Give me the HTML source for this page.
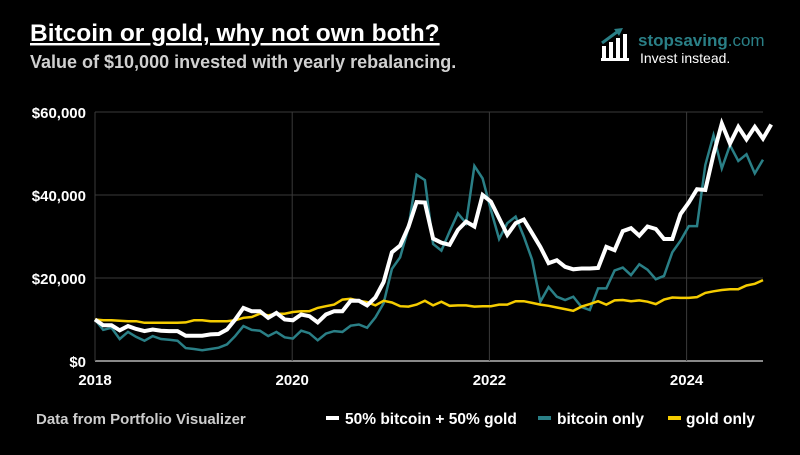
<!DOCTYPE html>
<html><head><meta charset="utf-8"><style>
body{margin:0;background:#000;width:800px;height:450px;overflow:hidden;font-family:"Liberation Sans",sans-serif}
svg text{font-family:"Liberation Sans",sans-serif}
</style></head><body>
<svg width="800" height="450">
<rect width="800" height="450" fill="#000"/>
<text x="30" y="41" fill="#fff" font-size="24.5" font-weight="bold" text-decoration="underline">Bitcoin or gold, why not own both?</text>
<text x="30" y="68" fill="#d0d0d0" font-size="18" font-weight="bold">Value of $10,000 invested with yearly rebalancing.</text>
<g>
<g fill="#fff"><rect x="602" y="46" width="4" height="12"/><rect x="609" y="42" width="4" height="16"/><rect x="616" y="38" width="4" height="20"/><rect x="623" y="34" width="4" height="24"/><rect x="601" y="58" width="28" height="3"/></g>
<path d="M602 43 L617 32" stroke="#2a7f86" stroke-width="3"/><path d="M614 29 L623 28 L619 36 Z" fill="#2a7f86"/>
<text x="638" y="46" font-size="17" fill="#2a7f86"><tspan font-weight="bold">stopsaving</tspan>.com</text>
<text x="640" y="63" font-size="14" fill="#fff">Invest instead.</text>
</g>
<g id="grid"></g><g id="series"></g>
<text x="36" y="424" fill="#ccc" font-size="15" font-weight="bold">Data from Portfolio Visualizer</text>
<g font-size="15.5" font-weight="bold" fill="#fff">
<g><line x1="326" y1="418" x2="339" y2="418" stroke="#fff" stroke-width="4"/><text x="345" y="424">50% bitcoin + 50% gold</text></g>
<g><line x1="538" y1="418" x2="551" y2="418" stroke="#2a7f86" stroke-width="4"/><text x="557" y="424">bitcoin only</text></g>
<g><line x1="668" y1="418" x2="681" y2="418" stroke="#f5cc00" stroke-width="4"/><text x="686" y="424">gold only</text></g>
</g>
</svg>
<script>
const yTicks=[0,20000,40000,60000];
const yTickLabels=["$0","$20,000","$40,000","$60,000"];
const xTicks=[2018,2020,2022,2024];
const bitcoin=[10,7.5,8,5.3,7,5.8,4.9,6,5.3,5.1,4.9,3.1,2.9,2.6,2.9,3.2,4,6,8.4,7.5,7.3,6,7,5.7,5.4,7.3,6.7,5,6.6,7.2,7,8.5,8.8,8,10.5,13.9,22.2,25,32,44.9,43.6,28.2,26.6,31.2,35.6,33.2,47,44,36.4,29.4,33.2,34.8,30,24.4,14.3,17.8,15.5,14.7,15.5,13,12.3,17.5,17.5,21.8,22.5,20.7,23.3,22,19.7,20.5,26.2,29,32.5,32.5,47.2,54.4,46.4,52,48.2,49.8,45.2,48.5];
const portfolio=[10,8.6,8.6,7.4,8.4,7.7,7.2,7.6,7.3,7.2,7.2,6.1,6.1,6.1,6.4,6.5,7.6,10,12.8,12,12,10.4,11.6,10,9.8,11.2,10.8,9.3,11.2,12,12,14.5,14.5,13.4,15.3,19,26.2,27.8,32.3,38.3,38.2,29.5,28.5,28,31.6,33.6,32.4,40,38.4,34.4,30.4,33.2,34.1,30.8,27.5,23.6,24.3,22.7,22.1,22.3,22.3,22.4,27.5,26.7,31.3,32,30.2,32.4,31.8,29.4,29.4,35.4,38.2,41.4,41.2,49.8,57.2,52.4,56.4,53.4,56.4,53.6,57];
const gold=[10,9.8,9.8,9.7,9.6,9.6,9.2,9.2,9.2,9.2,9.2,9.3,9.8,9.8,9.6,9.6,9.6,9.8,10.4,10.6,11.4,11,11.4,11.4,11.8,12,12,12.8,13.2,13.6,14.8,15,14.5,14.2,13.4,14.5,14.1,13.2,13.1,13.6,14.5,13.4,14.3,13.3,13.4,13.4,13.1,13.2,13.2,13.6,13.6,14.4,14.4,14,13.6,13.3,12.9,12.5,12.1,13.1,13.7,14.4,13.6,14.6,14.7,14.4,14.6,14.3,13.7,14.8,15.3,15.2,15.2,15.4,16.4,16.8,17.1,17.3,17.3,18.2,18.6,19.5];
const NS="http://www.w3.org/2000/svg";
const L=95,R=763,T=112,B=361;
function xYear(y){return L+(y-2018)*98.6;}
function xIdx(i){return L+(R-L)*i/81;}
function yVal(v){return B-(v/60000)*(B-T);}
const grid=document.getElementById('grid'),ser=document.getElementById('series');
function mk(tag,attrs,parent){const e=document.createElementNS(NS,tag);for(const k in attrs)e.setAttribute(k,attrs[k]);parent.appendChild(e);return e;}
yTicks.forEach((t,i)=>{
 const ln=mk('line',{x1:L,x2:R,y1:yVal(t),y2:yVal(t),stroke:t===0?'#888':'#3a3a3a','stroke-width':t===0?2:1},grid);
 
 
 const tx=mk('text',{x:86,y:yVal(t)+6,'text-anchor':'end',fill:'#fff','font-size':15,'font-weight':'bold'},grid);
 tx.textContent=yTickLabels[i];
 
 
});
xTicks.forEach(t=>{
 const ln=mk('line',{x1:xYear(t),x2:xYear(t),y1:T,y2:B,stroke:'#3a3a3a','stroke-width':1},grid);
 
 
 const tx=mk('text',{x:xYear(t),y:385,'text-anchor':'middle',fill:'#fff','font-size':15,'font-weight':'bold'},grid);
 tx.textContent=t;
 
 
});
function line(data,color,w,name){
 const d=data.map((v,i)=>(i?'L':'M')+xIdx(i).toFixed(1)+' '+yVal(v*1000).toFixed(1)).join(' ');
 const p=mk('path',{d:d,fill:'none',stroke:color,'stroke-width':w,'stroke-linejoin':'miter'},ser);
 
 
}
line(bitcoin,'#2a7f86',2.5,'bitcoin-line');
line(gold,'#f5cc00',2.5,'gold-line');
line(portfolio,'#fff',4,'portfolio-line');
</script>
</body></html>
